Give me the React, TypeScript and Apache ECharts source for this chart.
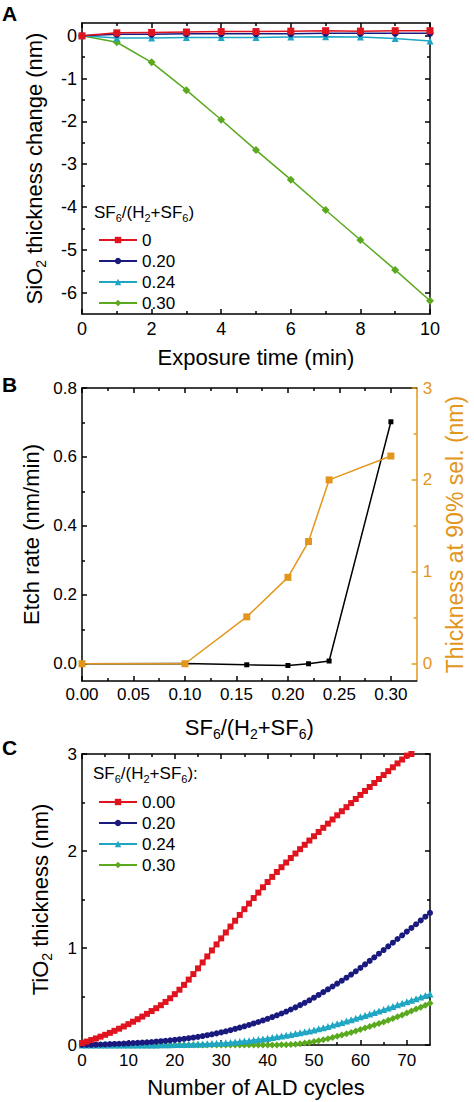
import React, { useEffect, useRef } from 'react';
import * as echarts from 'echarts';

const FONT = '"Liberation Sans", Arial, Helvetica, sans-serif';

// ---------- Panel A: SiO2 thickness change vs exposure time ----------
const exposureTime = [0, 1, 2, 3, 4, 5, 6, 7, 8, 9, 10];
const aRatio000 = [0, 0.07, 0.08, 0.09, 0.1, 0.1, 0.11, 0.12, 0.11, 0.12, 0.12];
const aRatio020 = [0, 0.04, 0.04, 0.05, 0.05, 0.05, 0.05, 0.06, 0.06, 0.06, 0.06];
const aRatio024 = [0, -0.05, -0.05, -0.04, -0.04, -0.04, -0.03, -0.02, -0.03, -0.06, -0.12];
const aRatio030 = [0, -0.15, -0.62, -1.27, -1.96, -2.67, -3.36, -4.07, -4.77, -5.47, -6.19];
const aNames = ['0', '0.20', '0.24', '0.30'];
const aXTicks = [0, 2, 4, 6, 8, 10];
const aXMinor = [1, 3, 5, 7, 9];
const aYTicks = [-6, -5, -4, -3, -2, -1, 0];
const aYMinor = [-5.5, -4.5, -3.5, -2.5, -1.5, -0.5];

// ---------- Panel B: etch rate & thickness vs SF6 ratio ----------
const sfRatio = [0, 0.1, 0.16, 0.2, 0.22, 0.24, 0.3];
const etchRate = [0, 0.001, -0.003, -0.005, 0, 0.008, 0.702];
const thickness90 = [0, 0, 0.51, 0.94, 1.33, 2.0, 2.26];
const bXTicks = [0, 0.05, 0.1, 0.15, 0.2, 0.25, 0.3];
const bXMinor = [0.025, 0.075, 0.125, 0.175, 0.225, 0.275];
const bYTicks = [0, 0.2, 0.4, 0.6, 0.8];
const bYMinor = [0.1, 0.3, 0.5, 0.7];
const bY2Ticks = [0, 1, 2, 3];
const bY2Minor = [0.5, 1.5, 2.5];

// ---------- Panel C: TiO2 thickness vs ALD cycles ----------
const cRatio000 = [
  0.02, 0.035, 0.051, 0.068, 0.086, 0.105, 0.125, 0.146, 0.168, 0.191,
  0.215, 0.24, 0.266, 0.293, 0.321, 0.35, 0.379, 0.41, 0.444, 0.482,
  0.524, 0.57, 0.62, 0.674, 0.731, 0.79, 0.851, 0.913, 0.975, 1.037,
  1.099, 1.16, 1.221, 1.281, 1.341, 1.4, 1.458, 1.515, 1.571, 1.626,
  1.68, 1.733, 1.784, 1.833, 1.881, 1.928, 1.974, 2.019, 2.064, 2.108,
  2.152, 2.196, 2.239, 2.282, 2.325, 2.368, 2.41, 2.452, 2.494, 2.536,
  2.578, 2.619, 2.66, 2.701, 2.742, 2.783, 2.823, 2.863, 2.903, 2.943,
  2.983, 3.0,
];
const cRatio020 = [
  0, 0.001, 0.002, 0.004, 0.005, 0.007, 0.009, 0.011, 0.013, 0.015,
  0.017, 0.02, 0.022, 0.025, 0.028, 0.031, 0.035, 0.039, 0.043, 0.048,
  0.053, 0.058, 0.064, 0.07, 0.077, 0.084, 0.092, 0.101, 0.11, 0.12,
  0.13, 0.141, 0.153, 0.166, 0.179, 0.193, 0.207, 0.222, 0.237, 0.253,
  0.27, 0.288, 0.306, 0.325, 0.345, 0.366, 0.388, 0.411, 0.435, 0.461,
  0.488, 0.516, 0.545, 0.574, 0.603, 0.633, 0.663, 0.694, 0.726, 0.76,
  0.795, 0.831, 0.867, 0.904, 0.941, 0.979, 1.017, 1.055, 1.093, 1.131,
  1.169, 1.207, 1.245, 1.284, 1.323, 1.362,
];
const cRatio024 = [
  0, 0, 0, 0, 0, 0, 0, 0, 0, 0,
  0, 0, 0, 0, 0, 0.001, 0.001, 0.002, 0.002, 0.003,
  0.004, 0.005, 0.006, 0.007, 0.008, 0.01, 0.011, 0.013, 0.015, 0.017,
  0.02, 0.023, 0.027, 0.031, 0.035, 0.04, 0.045, 0.051, 0.057, 0.063,
  0.07, 0.077, 0.084, 0.092, 0.1, 0.109, 0.118, 0.127, 0.136, 0.145,
  0.155, 0.167, 0.179, 0.192, 0.205, 0.219, 0.233, 0.247, 0.261, 0.276,
  0.29, 0.305, 0.32, 0.335, 0.35, 0.366, 0.382, 0.398, 0.414, 0.43,
  0.446, 0.462, 0.478, 0.494, 0.51, 0.526,
];
const cRatio030 = [
  0, 0, 0, 0, 0, 0, 0, 0, 0, 0,
  0, 0, 0, 0, 0, 0, 0, 0, 0, 0,
  0, 0, 0, 0, 0, 0, 0, 0, 0, 0,
  0, 0, 0, 0, 0, 0, 0, 0, 0, 0,
  0, 0, 0.001, 0.002, 0.003, 0.005, 0.009, 0.014, 0.02, 0.027,
  0.035, 0.044, 0.054, 0.065, 0.077, 0.09, 0.103, 0.116, 0.13, 0.145,
  0.16, 0.175, 0.19, 0.206, 0.222, 0.238, 0.255, 0.272, 0.29, 0.308,
  0.33, 0.35, 0.37, 0.39, 0.41, 0.43,
];
const cNames = ['0.00', '0.20', '0.24', '0.30'];
const cXTicks = [0, 10, 20, 30, 40, 50, 60, 70];
const cXMinor = [5, 15, 25, 35, 45, 55, 65];
const cYTicks = [0, 1, 2, 3];
const cYMinor = [0.5, 1.5, 2.5];

const RED = '#E0141E';
const NAVY = '#1A1A7E';
const CYAN = '#1FA6C3';
const GREEN = '#5AA91E';
const ORANGE = '#E2961B';
const BLACK = '#000000';

const subRich = (size: number, lh: number) => ({
  s: { fontSize: size, fontFamily: FONT, verticalAlign: 'bottom', lineHeight: lh },
});

function mkAxis(gridIndex: number, position: string, min: number, max: number,
  ticks: number[], len: number, showLine: boolean, color: string, extra: any = {}) {
  return {
    type: 'value', gridIndex, position, min, max, offset: 0,
    splitLine: { show: false },
    axisLine: { show: showLine, onZero: false, lineStyle: { color, width: 1.5 } },
    axisTick: { show: ticks.length > 0, inside: true, length: len, customValues: ticks, lineStyle: { color, width: 1.5 } },
    axisLabel: { show: false },
    ...extra,
  };
}

function labelCfg(ticks: number[], fmt: (v: number) => string, size: number, margin: number, color = BLACK) {
  return { show: true, customValues: ticks, formatter: fmt, fontSize: size, fontFamily: FONT, color, margin };
}

function nameCfg(name: string, gap: number, size: number, color = BLACK, lh = 28) {
  return {
    name, nameLocation: 'middle', nameGap: gap,
    nameTextStyle: { fontSize: size, fontFamily: FONT, color, rich: subRich(Math.round(size * 0.64), lh) },
  };
}

function lineSeries(name: string, xs: number[], ys: number[], xi: number, yi: number,
  color: string, symbol: string, size: number, z = 2) {
  return {
    type: 'line', name, xAxisIndex: xi, yAxisIndex: yi, z,
    data: ys.map((v, i) => [xs[i], v]),
    symbol, symbolSize: size, showSymbol: true,
    lineStyle: { color, width: 1.5 },
    itemStyle: { color, borderWidth: 0 },
    clip: true,
  };
}

export default function App() {
  const ref = useRef<HTMLDivElement>(null);
  useEffect(() => {
    if (!ref.current) return;
    const chart = echarts.init(ref.current, undefined, { renderer: 'svg' });
    const cycles = cRatio020.map((_, i) => i);

    const xAxis = [
      // A (0-3)
      mkAxis(0, 'bottom', 0, 10, aXTicks, 5, true, BLACK, {
        axisLabel: labelCfg(aXTicks, (v) => String(v), 18, 6), ...nameCfg('Exposure time (min)', 32, 22),
      }),
      mkAxis(0, 'bottom', 0, 10, aXMinor, 3, false, BLACK),
      mkAxis(0, 'top', 0, 10, aXTicks, 5, true, BLACK),
      mkAxis(0, 'top', 0, 10, aXMinor, 3, false, BLACK),
      // B (4-7)
      mkAxis(1, 'bottom', 0, 0.325, bXTicks, 5, true, BLACK, {
        axisLabel: labelCfg(bXTicks, (v) => v.toFixed(2), 17, 5), ...nameCfg('SF{s|6}/(H{s|2}+SF{s|6})', 32, 22),
      }),
      mkAxis(1, 'bottom', 0, 0.325, bXMinor, 3, false, BLACK),
      mkAxis(1, 'top', 0, 0.325, bXTicks, 5, true, BLACK),
      mkAxis(1, 'top', 0, 0.325, bXMinor, 3, false, BLACK),
      // C (8-11)
      mkAxis(2, 'bottom', 0, 75, cXTicks, 5, true, BLACK, {
        axisLabel: labelCfg(cXTicks, (v) => String(v), 17, 7), ...nameCfg('Number of ALD cycles', 31, 22),
      }),
      mkAxis(2, 'bottom', 0, 75, cXMinor, 3, false, BLACK),
      mkAxis(2, 'top', 0, 75, cXTicks, 5, true, BLACK),
      mkAxis(2, 'top', 0, 75, cXMinor, 3, false, BLACK),
    ];

    const yAxis = [
      // A (0-3)
      mkAxis(0, 'left', -6.5, 0.3, aYTicks, 5, true, BLACK, {
        axisLabel: labelCfg(aYTicks, (v) => String(v), 18, 5), ...nameCfg('SiO{s|2} thickness change (nm)', 34, 22),
      }),
      mkAxis(0, 'left', -6.5, 0.3, aYMinor, 3, false, BLACK),
      mkAxis(0, 'right', -6.5, 0.3, aYTicks, 5, true, BLACK),
      mkAxis(0, 'right', -6.5, 0.3, aYMinor, 3, false, BLACK),
      // B (4-7)
      mkAxis(1, 'left', -0.05, 0.8, bYTicks, 5, true, BLACK, {
        axisLabel: labelCfg(bYTicks, (v) => v.toFixed(1), 17, 5), ...nameCfg('Etch rate (nm/min)', 40, 22, BLACK, 22),
      }),
      mkAxis(1, 'left', -0.05, 0.8, bYMinor, 3, false, BLACK),
      mkAxis(1, 'right', -0.1875, 3, bY2Ticks, 5, true, ORANGE, {
        axisLabel: labelCfg(bY2Ticks, (v) => String(v), 17, 6, ORANGE), ...nameCfg('Thickness at 90% sel. (nm)', 19, 23, ORANGE, 23),
      }),
      mkAxis(1, 'right', -0.1875, 3, bY2Minor, 3, false, ORANGE),
      // C (8-11)
      mkAxis(2, 'left', 0, 3, cYTicks, 5, true, BLACK, {
        axisLabel: labelCfg(cYTicks, (v) => String(v), 17, 5), ...nameCfg('TiO{s|2} thickness (nm)', 28, 22),
      }),
      mkAxis(2, 'left', 0, 3, cYMinor, 3, false, BLACK),
      mkAxis(2, 'right', 0, 3, cYTicks, 5, true, BLACK),
      mkAxis(2, 'right', 0, 3, cYMinor, 3, false, BLACK),
    ];

    const series = [
      lineSeries(aNames[0], exposureTime, aRatio000, 0, 0, RED, 'rect', 7, 5),
      lineSeries(aNames[1], exposureTime, aRatio020, 0, 0, NAVY, 'circle', 7, 4),
      lineSeries(aNames[2], exposureTime, aRatio024, 0, 0, CYAN, 'triangle', 7, 3),
      lineSeries(aNames[3], exposureTime, aRatio030, 0, 0, GREEN, 'diamond', 8, 2),

      lineSeries('Etch rate', sfRatio, etchRate, 4, 4, BLACK, 'rect', 5, 2),
      lineSeries('Thickness', sfRatio, thickness90, 4, 6, ORANGE, 'rect', 7, 3),

      lineSeries(cNames[3], cycles, cRatio030, 8, 8, GREEN, 'diamond', 7, 2),
      lineSeries(cNames[2], cycles, cRatio024, 8, 8, CYAN, 'triangle', 7, 3),
      lineSeries(cNames[1], cycles, cRatio020, 8, 8, NAVY, 'circle', 6, 4),
      lineSeries(cNames[0], cycles.slice(0, cRatio000.length), cRatio000, 8, 8, RED, 'rect', 6, 5),
    ];

    const legendBase = {
      orient: 'vertical', left: 93, itemWidth: 38, itemHeight: 8, itemGap: 1,
      selectedMode: false,
      textStyle: { fontSize: 17, fontFamily: FONT, color: BLACK, lineHeight: 20 },
    };

    const titleStyle = (text: string) => ({
      text, fontSize: 17, fontFamily: FONT, fill: BLACK, align: 'left', verticalAlign: 'middle',
      rich: { s: { fontSize: 11, fontFamily: FONT, fill: BLACK, verticalAlign: 'bottom', lineHeight: 22 } },
    });
    const letter = (t: string, y: number) => ({
      type: 'text', x: 2, y,
      style: { text: t, fontSize: 21, fontWeight: 'bold', fontFamily: FONT, fill: BLACK, verticalAlign: 'middle' },
    });

    chart.setOption({
      animation: false,
      backgroundColor: '#ffffff',
      textStyle: { fontFamily: FONT },
      grid: [
        { left: 82, right: 44, top: 23, height: 291, containLabel: false },
        { left: 82, right: 45, top: 388, height: 293, containLabel: false },
        { left: 82, right: 44, top: 754, height: 291, containLabel: false },
      ],
      xAxis, yAxis, series,
      legend: [
        { ...legendBase, top: 225, data: aNames },
        { ...legendBase, top: 787, data: cNames },
      ],
      graphic: [
        letter('A', 13),
        letter('B', 384),
        letter('C', 747),
        { type: 'text', x: 94, y: 212, style: titleStyle('SF{s|6}/(H{s|2}+SF{s|6})') },
        { type: 'text', x: 93, y: 773, style: titleStyle('SF{s|6}/(H{s|2}+SF{s|6}):') },
      ],
    });
    return () => chart.dispose();
  }, []);
  return <div ref={ref} style={{ position: 'fixed', left: 0, top: 0, width: 474, height: 1102, background: '#fff' }} />;
}
